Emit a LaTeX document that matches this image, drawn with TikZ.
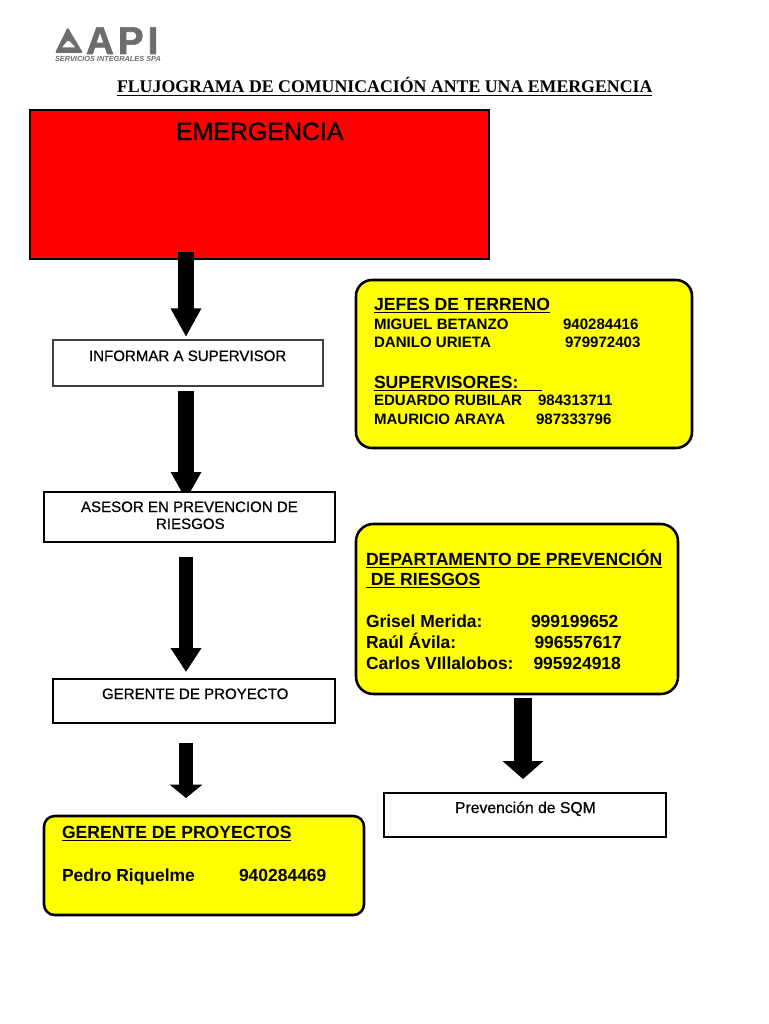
\documentclass[tikz,border=0pt]{standalone}
\usepackage{fontspec}
\setmainfont{Liberation Sans}
\newfontfamily\serifti{Liberation Serif}
\newfontfamily\softbold[FakeBold=0.6]{Liberation Sans}
\newfontfamily\strongreg[FakeBold=1.2]{Liberation Sans}
\newfontfamily\logoheavy[BoldFeatures={FakeBold=1.6}]{Liberation Sans}
\usetikzlibrary{arrows.meta,backgrounds}
\newcommand{\fs}[1]{\fontsize{#1}{#1}\selectfont}
\definecolor{logogray}{HTML}{6E6C6C}
\definecolor{ybox}{HTML}{FFFF00}
\tikzset{
  x=0.75pt,y=-0.75pt,
  pt/.style={inner sep=0pt,outer sep=0pt,anchor=base west,text=black},
  plainbox/.style={draw=#1,fill=white,line width=1.9pt,inner sep=0pt,outer sep=0pt},
  plainbox/.default=black,
  redbox/.style={draw=black,fill=red,line width=1.2pt,inner sep=0pt,outer sep=0pt},
  yellowbox/.style={draw=black,fill=ybox,line width=1.9pt,inner sep=0pt,outer sep=0pt,rounded corners=#1},
  blockarrow/.style n args={3}{draw=black,line width=#1,-{Triangle[length=#2,width=#3,fill=black]}},
  smalltxt/.style={pt,font=\fs{11.3pt}\bfseries},
  headtxt/.style={pt,font=\fs{13.2pt}\bfseries},
  midtxt/.style={pt,font=\fs{13.1pt}\bfseries},
  boxtxt/.style={pt,font=\softbold\fs{11.3pt}},
}
\begin{document}
\begin{tikzpicture}
\useasboundingbox (0,0) rectangle (768,1024);
\begin{scope}[on background layer]
\fill[white] (0,0) rectangle (768,1024);
\end{scope}

% logo
\fill[logogray,even odd rule,rounded corners=1pt] (67.7,27.3) -- (83,53) -- (55,53) -- cycle
  (68.3,40) -- (61.5,47.5) -- (76,47.5) -- cycle;
\node[pt,text=logogray,font=\logoheavy\fs{29pt}\bfseries] (logoapi) at (86,54) {A\kern3pt P\kern3pt I};
\node[pt,text=logogray,font=\fs{5.5pt}\bfseries\itshape] (logosub) at (55,62) {SERVICIOS INTEGRALES SPA};

% title
\node[pt,font=\serifti\fs{13.35pt}\bfseries] (title) at (117,93) {\underline{FLUJOGRAMA DE COMUNICACIÓN ANTE UNA EMERGENCIA}};

% boxes
\node[redbox,minimum width=459*0.75pt,minimum height=149*0.75pt] (emerg) at (259.5,184.5) {};
\node[plainbox=black!75,minimum width=270*0.75pt,minimum height=46*0.75pt] (inf) at (188,363) {};
\node[plainbox,minimum width=291*0.75pt,minimum height=50*0.75pt] (ases) at (189.5,517) {};
\node[plainbox,minimum width=282*0.75pt,minimum height=44*0.75pt] (ger) at (194,701) {};
\node[plainbox,minimum width=282*0.75pt,minimum height=44*0.75pt] (sqm) at (525,815) {};
\node[yellowbox=12pt,minimum width=336*0.75pt,minimum height=168*0.75pt] (jefes) at (524,364) {};
\node[yellowbox=13pt,minimum width=322*0.75pt,minimum height=170*0.75pt] (depto) at (517,609) {};
\node[yellowbox=8pt,minimum width=320*0.75pt,minimum height=99*0.75pt] (gproy) at (204,865.5) {};

% connectors
\coordinate (axl) at (186,0);
\coordinate (axr) at (523,0);
\draw[blockarrow={11.6pt}{21.5pt}{21.5pt}] ([yshift=5.25pt]emerg.south -| axl) -- ([yshift=2.25pt]inf.north -| axl);
\begin{scope}[on background layer]
\draw[blockarrow={11.6pt}{21pt}{21.5pt}] ([yshift=-3.75pt]inf.south -| axl) -- ([yshift=-6pt]ases.north -| axl);
\end{scope}
\draw[blockarrow={10.5pt}{18pt}{22pt}] ([yshift=-11.25pt]ases.south -| axl) -- ([yshift=5.25pt]ger.north -| axl);
\draw[blockarrow={10.5pt}{10pt}{24pt}] ([yshift=-15pt]ger.south -| axl) -- ([yshift=13.5pt]gproy.north -| axl);
\draw[blockarrow={13.5pt}{13.5pt}{30pt}] ([yshift=-3pt]depto.south -| axr) -- ([yshift=10.5pt]sqm.north -| axr);

% texts
\node[pt,font=\strongreg\fs{18.7pt}] (temerg) at (176,140) {EMERGENCIA};
\node[boxtxt] (tinf) at (89,361) {INFORMAR A SUPERVISOR};
\node[boxtxt] (tas1) at (81,512) {ASESOR EN PREVENCION DE};
\node[boxtxt] (tas2) at (156,529) {RIESGOS};
\node[boxtxt] (tger) at (102,699) {GERENTE DE PROYECTO};
\node[boxtxt,font=\softbold\fs{11.8pt}] (tsqm) at (455,813) {Prevención de SQM};

\node[headtxt] (j0) at (374,310) {\underline{JEFES DE TERRENO}};
\node[smalltxt] (j1) at (374,329) {MIGUEL BETANZO};
\node[smalltxt] (j1n) at (563,329) {940284416};
\node[smalltxt] (j2) at (374,347) {DANILO URIETA};
\node[smalltxt] (j2n) at (565,347) {979972403};
\node[headtxt] (j3) at (374,388) {\underline{SUPERVISORES:\hspace{18pt}}};
\node[smalltxt] (j4) at (374,405) {EDUARDO RUBILAR};
\node[smalltxt] (j4n) at (538,405) {984313711};
\node[smalltxt] (j5) at (374,424) {MAURICIO ARAYA};
\node[smalltxt] (j5n) at (536,424) {987333796};

\node[headtxt] (d0) at (366,565) {\underline{DEPARTAMENTO DE PREVENCIÓN}};
\node[headtxt] (d1) at (366,585) {\underline{\ DE RIESGOS}};
\node[midtxt] (d2) at (366,627) {Grisel Merida:};
\node[midtxt] (d2n) at (531,627) {999199652};
\node[midtxt] (d3) at (366,648) {Raúl Ávila:};
\node[midtxt] (d3n) at (534.5,648) {996557617};
\node[midtxt] (d4) at (366,669) {Carlos VIllalobos:};
\node[midtxt] (d4n) at (533.5,669) {995924918};

\node[headtxt] (g0) at (62,838) {\underline{GERENTE DE PROYECTOS}};
\node[midtxt] (g1) at (62,881) {Pedro Riquelme};
\node[midtxt] (g1n) at (239,881) {940284469};
\end{tikzpicture}
\end{document}
